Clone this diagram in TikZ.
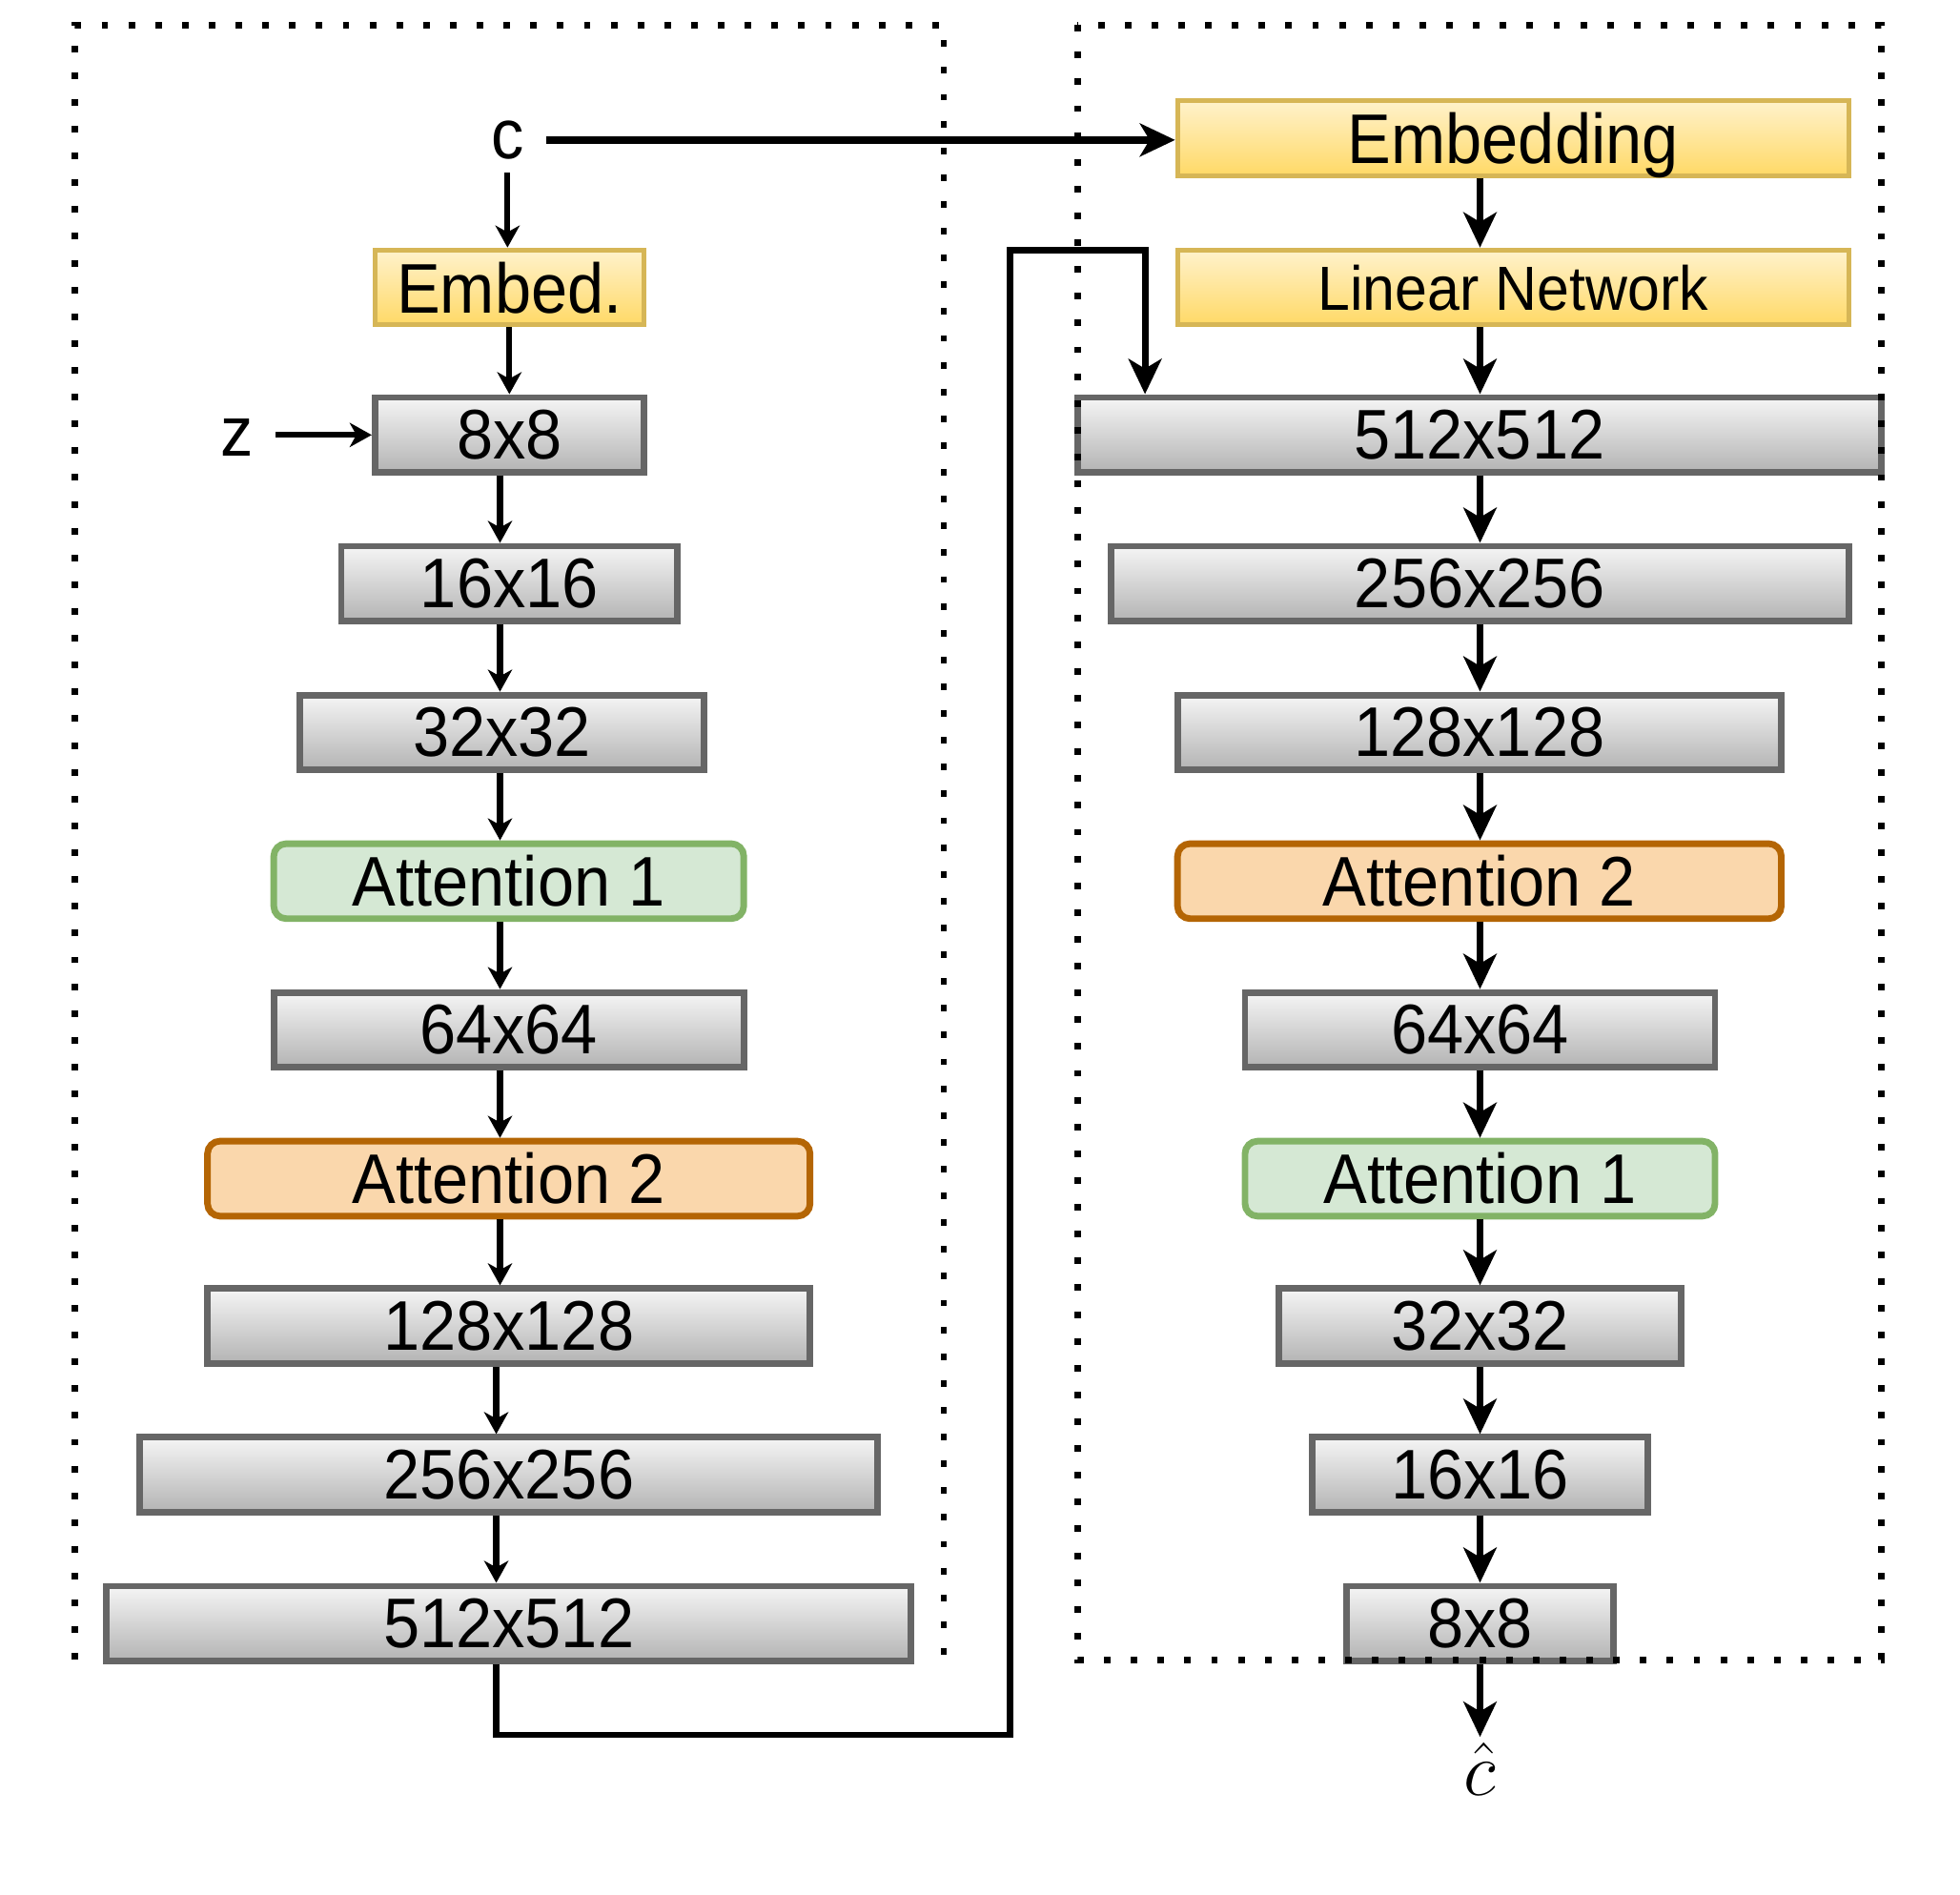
\documentclass[tikz,border=0pt]{standalone}
\usepackage{fontspec}
\setmainfont{Liberation Sans}[FakeStretch=0.93]
\usetikzlibrary{arrows.meta}
\definecolor{grayTop}{HTML}{F5F5F5}
\definecolor{grayBot}{HTML}{B3B3B3}
\definecolor{grayLine}{HTML}{666666}
\definecolor{embTop}{HTML}{FFF2CC}
\definecolor{embBot}{HTML}{FFD966}
\definecolor{embLine}{HTML}{D6B656}
\definecolor{grnFill}{HTML}{D5E8D4}
\definecolor{grnLine}{HTML}{82B366}
\definecolor{orgFill}{HTML}{FAD7AC}
\definecolor{orgLine}{HTML}{B46504}

\begin{document}
\begin{tikzpicture}[font=\fontsize{16}{19}\selectfont,
    resbox/.style={draw=grayLine,line width=1.5pt,top color=grayTop,bottom color=grayBot,minimum height=0.6cm,inner sep=0pt},
    embbox/.style={draw=embLine,line width=1.1pt,top color=embTop,bottom color=embBot,minimum height=0.6cm,inner sep=0pt,text depth=0pt},
    attgreen/.style={draw=grnLine,line width=1.5pt,fill=grnFill,rounded corners=0.1cm,minimum height=0.6cm,inner sep=0pt},
    attorange/.style={draw=orgLine,line width=1.5pt,fill=orgFill,rounded corners=0.1cm,minimum height=0.6cm,inner sep=0pt},
    thinarr/.style={line width=1.35pt,-{Stealth[length=5pt,width=5.5pt,inset=1.5pt]}},
    thickarr/.style={line width=1.7pt,-{Stealth[length=8pt,width=7.5pt,inset=2.2pt]}},
    dotframe/.style={line width=1.5pt,dash pattern=on 1.5pt off 4.6pt}]
        \useasboundingbox (0,0) rectangle (15.68,-15.16);
        % encoder side
        \node[inner xsep=0.17cm,inner ysep=0.1cm] (cin) at (4.06,-1.12) {c};
        \node[embbox,minimum width=2.15cm] (lembed) at (4.075,-2.30) {Embed.};
        \node[resbox,minimum width=2.15cm] (l8) at (4.075,-3.48) {8x8};
        \node[inner xsep=0.17cm] (zin) at (1.90,-3.50) {z};
        \node[resbox,minimum width=2.69cm] (l16) at (4.075,-4.67) {16x16};
        \node[resbox,minimum width=3.23cm] (l32) at (4.015,-5.86) {32x32};
        \node[attgreen,minimum width=3.76cm] (latt1) at (4.07,-7.05) {Attention 1};
        \node[resbox,minimum width=3.76cm] (l64) at (4.07,-8.24) {64x64};
        \node[attorange,minimum width=4.82cm] (latt2) at (4.07,-9.43) {Attention 2};
        \node[resbox,minimum width=4.82cm] (l128) at (4.07,-10.61) {128x128};
        \node[resbox,minimum width=5.90cm] (l256) at (4.07,-11.80) {256x256};
        \node[resbox,minimum width=6.44cm] (l512) at (4.07,-12.99) {512x512};
        \coordinate (laxis) at (4.00,0);
        \draw[thinarr] (cin) -- (cin |- lembed.north);
        \draw[thinarr] (lembed) -- (l8);
        \draw[thinarr] (zin.east |- l8.west) -- (l8.west);
        \draw[thinarr] (l8.south -| laxis) -- (l16.north -| laxis);
        \draw[thinarr] (l16.south -| laxis) -- (l32.north -| laxis);
        \draw[thinarr] (l32.south -| laxis) -- (latt1.north -| laxis);
        \draw[thinarr] (latt1.south -| laxis) -- (l64.north -| laxis);
        \draw[thinarr] (l64.south -| laxis) -- (latt2.north -| laxis);
        \draw[thinarr] (latt2.south -| laxis) -- (l128.north -| laxis);
        \draw[thinarr] ([xshift=-0.03cm]l128.south -| laxis) -- ([xshift=-0.03cm]l256.north -| laxis);
        \draw[thinarr] ([xshift=-0.03cm]l256.south -| laxis) -- ([xshift=-0.03cm]l512.north -| laxis);
        % decoder side
        \node[embbox,minimum width=5.37cm] (rembed) at (12.105,-1.105) {Embedding};
        \node[embbox,minimum width=5.37cm,font=\fontsize{14.2}{17}\selectfont] (rlin) at (12.105,-2.30) {Linear Network};
        \node[resbox,minimum width=6.43cm] (r512) at (11.835,-3.48) {512x512};
        \node[resbox,minimum width=5.90cm] (r256) at (11.84,-4.67) {256x256};
        \node[resbox,minimum width=4.83cm] (r128) at (11.835,-5.86) {128x128};
        \node[attorange,minimum width=4.83cm] (ratt2) at (11.835,-7.05) {Attention 2};
        \node[resbox,minimum width=3.76cm] (r64) at (11.84,-8.24) {64x64};
        \node[attgreen,minimum width=3.76cm] (ratt1) at (11.84,-9.43) {Attention 1};
        \node[resbox,minimum width=3.22cm] (r32) at (11.84,-10.61) {32x32};
        \node[resbox,minimum width=2.68cm] (r16) at (11.84,-11.80) {16x16};
        \node[resbox,minimum width=2.14cm] (r8) at (11.84,-12.99) {8x8};
        \node[inner sep=1pt] (chat) at (11.84,-14.15) {\fontsize{19}{22}\selectfont$\hat{c}$};
        \coordinate (raxis) at (11.84,0);
        \draw[thickarr] (cin.east) -- (cin.east -| rembed.west);
        \draw[thickarr] (rembed.south -| raxis) -- (rlin.north -| raxis);
        \draw[thickarr] (rlin.south -| raxis) -- (r512.north -| raxis);
        \draw[thickarr] (r512.south -| raxis) -- (r256.north -| raxis);
        \draw[thickarr] (r256.south -| raxis) -- (r128.north -| raxis);
        \draw[thickarr] (r128.south -| raxis) -- (ratt2.north -| raxis);
        \draw[thickarr] (ratt2.south -| raxis) -- (r64.north -| raxis);
        \draw[thickarr] (r64.south -| raxis) -- (ratt1.north -| raxis);
        \draw[thickarr] (ratt1.south -| raxis) -- (r32.north -| raxis);
        \draw[thickarr] (r32.south -| raxis) -- (r16.north -| raxis);
        \draw[thickarr] (r16.south -| raxis) -- (r8.north -| raxis);
        \draw[thickarr] (r8.south) -- (chat.north);
        % skip from encoder output to decoder input
        \coordinate (skipbot) at (8.08,-13.88);
        \coordinate (skiptop) at (9.16,-2.00);
        \draw[thickarr,line width=1.5pt] ([xshift=-0.10cm]l512.south) |- (skipbot) |- (skiptop) -- (r512.north -| skiptop);
        % dotted frames
        \draw[dotframe] (0.60,-13.28) -- (0.60,-0.20) -- (7.55,-0.20) -- (7.55,-13.28);
        \draw[dotframe] (8.62,-0.20) rectangle (15.05,-13.28);
    \end{tikzpicture}
\end{document}
